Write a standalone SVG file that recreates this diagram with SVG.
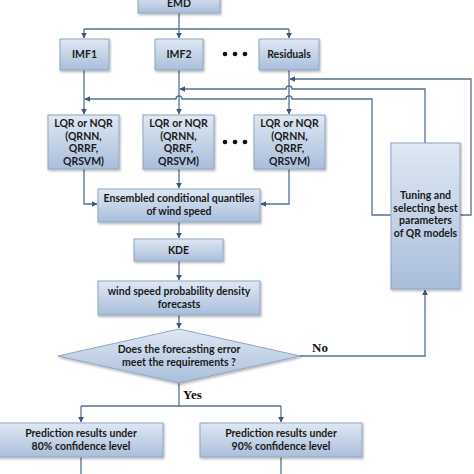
<svg xmlns="http://www.w3.org/2000/svg" width="474" height="474" viewBox="0 0 474 474">
<defs>
<linearGradient id="g" x1="0" y1="0" x2="0" y2="1">
<stop offset="0" stop-color="#dfe8f3"/>
<stop offset="1" stop-color="#a9bedb"/>
</linearGradient>
<filter id="sh" x="-10%" y="-10%" width="130%" height="140%">
<feDropShadow dx="1" dy="1.5" stdDeviation="1" flood-color="#000" flood-opacity="0.3"/>
</filter>
<marker id="a" viewBox="0 0 10 10" refX="9" refY="5" markerWidth="6" markerHeight="6" orient="auto" markerUnits="userSpaceOnUse">
<path d="M0,0 L10,5 L0,10 z" fill="#3f5876"/>
</marker>
</defs>
<style>
.b{fill:url(#g);stroke:#90a5c4;stroke-width:1;filter:url(#sh)}
.t{font-family:Lato,"Open Sans",sans-serif;font-weight:bold;font-size:10.5px;fill:#1a1a1a;text-anchor:middle}
.c{fill:none;stroke:#56708f;stroke-width:1.3}
.m{font-family:"Liberation Serif",serif;font-weight:bold;font-size:13px;fill:#111}
</style>
<rect width="474" height="474" fill="#fff"/>
<g id="connectors">
<path class="c" d="M179,13 V29"/>
<path class="c" d="M84,29 H289"/>
<path class="c" d="M84,29 V38" marker-end="url(#a)"/>
<path class="c" d="M179,29 V38" marker-end="url(#a)"/>
<path class="c" d="M289,29 V38" marker-end="url(#a)"/>
<path class="c" d="M84,70 V114" marker-end="url(#a)"/>
<path class="c" d="M179,70 V114" marker-end="url(#a)"/>
<path class="c" d="M289,70 V114" marker-end="url(#a)"/>
<path class="c" d="M391,215 H471 V79 H290" marker-end="url(#a)"/>
<path class="c" d="M425,143 V89 H292 A3,3 0 0 0 286,89 H180" marker-end="url(#a)"/>
<path class="c" d="M391,215 H372 V99 H292 A3,3 0 0 0 286,99 H182 A3,3 0 0 0 176,99 H85" marker-end="url(#a)"/>
<path class="c" d="M84,169 V204 H97" marker-end="url(#a)"/>
<path class="c" d="M179,169 V188" marker-end="url(#a)"/>
<path class="c" d="M289,169 V204 H261" marker-end="url(#a)"/>
<path class="c" d="M179,222 V238" marker-end="url(#a)"/>
<path class="c" d="M179,261 V280" marker-end="url(#a)"/>
<path class="c" d="M179,315 V328" marker-end="url(#a)"/>
<path class="c" d="M300,356 H425 V290" marker-end="url(#a)"/>
<path class="c" d="M179,383 V406"/>
<path class="c" d="M81,406 H281"/>
<path class="c" d="M81,406 V422" marker-end="url(#a)"/>
<path class="c" d="M281,406 V422" marker-end="url(#a)"/>
<path class="c" d="M81,457 V474"/>
<path class="c" d="M281,457 V474"/>
</g>
<g id="emd"><rect class="b" x="138" y="-6" width="82" height="19"/><text class="t" x="179" y="7">EMD</text></g>
<g id="imf1"><rect class="b" x="60" y="39" width="49" height="31"/><text class="t" x="84.5" y="58">IMF1</text></g>
<g id="imf2"><rect class="b" x="155" y="39" width="48" height="31"/><text class="t" x="179" y="58">IMF2</text></g>
<g id="dots1" fill="#111"><circle cx="225" cy="54" r="2.3"/><circle cx="235" cy="54" r="2.3"/><circle cx="245" cy="54" r="2.3"/></g>
<g id="residuals"><rect class="b" x="259" y="39" width="60" height="31"/><text class="t" x="289" y="58">Residuals</text></g>
<g id="lqr1"><rect class="b" x="48" y="115" width="71" height="54"/><text class="t" x="83.5" y="127"><tspan x="83.5">LQR or NQR</tspan><tspan x="83.5" dy="12.7">(QRNN,</tspan><tspan x="83.5" dy="12.7">QRRF,</tspan><tspan x="83.5" dy="12.7">QRSVM)</tspan></text></g>
<g id="lqr2"><rect class="b" x="143" y="115" width="71" height="54"/><text class="t" x="178.5" y="127"><tspan x="178.5">LQR or NQR</tspan><tspan x="178.5" dy="12.7">(QRNN,</tspan><tspan x="178.5" dy="12.7">QRRF,</tspan><tspan x="178.5" dy="12.7">QRSVM)</tspan></text></g>
<g id="dots2" fill="#111"><circle cx="225" cy="142" r="2.3"/><circle cx="235" cy="142" r="2.3"/><circle cx="245" cy="142" r="2.3"/></g>
<g id="lqr3"><rect class="b" x="254" y="115" width="71" height="54"/><text class="t" x="289.5" y="127"><tspan x="289.5">LQR or NQR</tspan><tspan x="289.5" dy="12.7">(QRNN,</tspan><tspan x="289.5" dy="12.7">QRRF,</tspan><tspan x="289.5" dy="12.7">QRSVM)</tspan></text></g>
<g id="tuning"><rect class="b" x="391" y="143" width="69" height="146"/><text class="t" x="425.5" y="199"><tspan x="425.5">Tuning and</tspan><tspan x="425.5" dy="12.7">selecting best</tspan><tspan x="425.5" dy="12.7">parameters</tspan><tspan x="425.5" dy="12.7">of QR models</tspan></text></g>
<g id="ensembled"><rect class="b" x="98" y="189" width="162" height="33"/><text class="t" x="179" y="202"><tspan x="179">Ensembled conditional quantiles</tspan><tspan x="179" dy="12.7">of wind speed</tspan></text></g>
<g id="kde"><rect class="b" x="134" y="239" width="89" height="22"/><text class="t" x="178.5" y="254">KDE</text></g>
<g id="pdf"><rect class="b" x="98" y="281" width="162" height="34"/><text class="t" x="179" y="295"><tspan x="179">wind speed probability density</tspan><tspan x="179" dy="12.7">forecasts</tspan></text></g>
<g id="decision"><path d="M179,329 L300,356 L179,383 L58,356 Z" fill="url(#g)" stroke="#90a5c4" stroke-width="1" filter="url(#sh)"/><text class="t" x="179" y="353"><tspan x="179">Does the forecasting error</tspan><tspan x="179" dy="12.7">meet the requirements ?</tspan></text></g>
<text class="m" x="312" y="352">No</text>
<text class="m" x="183" y="399">Yes</text>
<g id="pred80"><rect class="b" x="-2" y="423" width="165" height="34"/><text class="t" x="81" y="437"><tspan x="81">Prediction results under</tspan><tspan x="81" dy="12.7">80% confidence level</tspan></text></g>
<g id="pred90"><rect class="b" x="200" y="423" width="162" height="34"/><text class="t" x="281" y="437"><tspan x="281">Prediction results under</tspan><tspan x="281" dy="12.7">90% confidence level</tspan></text></g>
</svg>
